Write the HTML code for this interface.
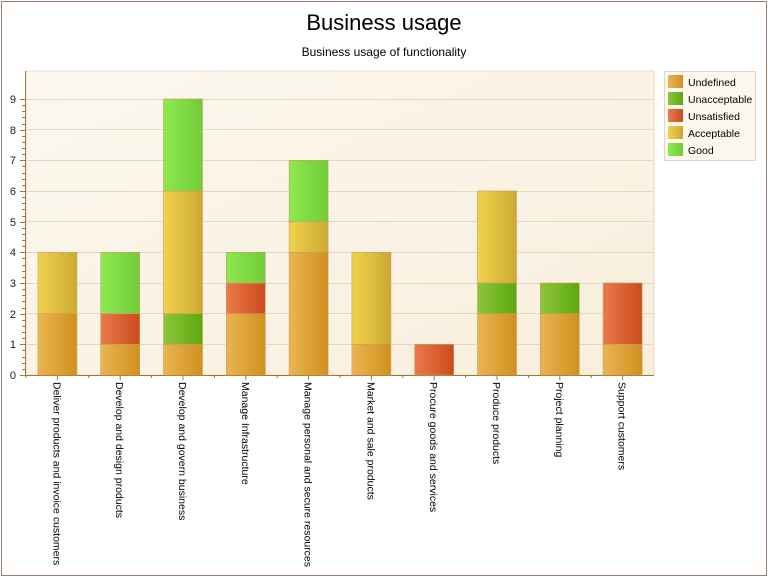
<!DOCTYPE html>
<html><head><meta charset="utf-8"><style>
body{margin:0;background:#fff;}
svg{display:block;font-family:"Liberation Sans","DejaVu Sans",sans-serif;}
</style></head><body>
<svg width="768" height="577" viewBox="0 0 768 577" xmlns="http://www.w3.org/2000/svg">
<defs>
<linearGradient id="bg" x1="0" y1="0" x2="1" y2="1"><stop offset="0" stop-color="#fcf8f0"/><stop offset="1" stop-color="#f8eedc"/></linearGradient>
<linearGradient id="u" x1="0" x2="1"><stop offset="0" stop-color="#eab552"/><stop offset="1" stop-color="#d0901e"/></linearGradient>
<linearGradient id="ua" x1="0" x2="1"><stop offset="0" stop-color="#8dc63a"/><stop offset="1" stop-color="#5da810"/></linearGradient>
<linearGradient id="us" x1="0" x2="1"><stop offset="0" stop-color="#ea7a4a"/><stop offset="1" stop-color="#cc4a1e"/></linearGradient>
<linearGradient id="ac" x1="0" x2="1"><stop offset="0" stop-color="#f2d24a"/><stop offset="1" stop-color="#cca834"/></linearGradient>
<linearGradient id="go" x1="0" x2="1"><stop offset="0" stop-color="#8ee84e"/><stop offset="1" stop-color="#72cc3a"/></linearGradient>
</defs>
<rect x="1.5" y="1.5" width="765" height="574" fill="#fff" stroke="#9a7a68"/>
<text x="384" y="30" font-size="22" text-anchor="middle" fill="#000">Business usage</text>
<text x="384" y="56" font-size="12" text-anchor="middle" fill="#000">Business usage of functionality</text>
<rect x="26" y="71" width="628" height="304" fill="url(#bg)" stroke="#e8dcc4"/>
<g stroke="#e6d8bc" stroke-width="1">
<line x1="26" x2="654" y1="344.5" y2="344.5"/><line x1="26" x2="654" y1="313.5" y2="313.5"/><line x1="26" x2="654" y1="283.5" y2="283.5"/><line x1="26" x2="654" y1="252.5" y2="252.5"/><line x1="26" x2="654" y1="221.5" y2="221.5"/><line x1="26" x2="654" y1="191.5" y2="191.5"/><line x1="26" x2="654" y1="160.5" y2="160.5"/><line x1="26" x2="654" y1="129.5" y2="129.5"/><line x1="26" x2="654" y1="99.5" y2="99.5"/>
</g>
<g font-size="11" fill="#222" text-anchor="end">
<text x="16" y="379">0</text><text x="16" y="348">1</text><text x="16" y="318">2</text><text x="16" y="287">3</text><text x="16" y="256">4</text><text x="16" y="226">5</text><text x="16" y="195">6</text><text x="16" y="164">7</text><text x="16" y="134">8</text><text x="16" y="103">9</text>
</g>
<line x1="25.5" y1="71" x2="25.5" y2="376" stroke="#a07830"/>
<line x1="25" y1="375.5" x2="654" y2="375.5" stroke="#a07830"/>
<g stroke="#a07830" id="ticks"></g>
<g stroke="#c8a060" stroke-width="0.6" id="bars"></g>
<g font-size="10.5" fill="#000" id="labels"></g>
<rect x="664.5" y="71.5" width="91" height="89" fill="#fcf8f0" stroke="#e4d6bc"/>
<g font-size="10.5" fill="#000">
<rect x="668" y="75" width="15" height="13" fill="url(#u)"/><text x="688" y="86">Undefined</text>
<rect x="668" y="92" width="15" height="13" fill="url(#ua)"/><text x="688" y="103">Unacceptable</text>
<rect x="668" y="109" width="15" height="13" fill="url(#us)"/><text x="688" y="120">Unsatisfied</text>
<rect x="668" y="126" width="15" height="13" fill="url(#ac)"/><text x="688" y="137">Acceptable</text>
<rect x="668" y="143" width="15" height="13" fill="url(#go)"/><text x="688" y="154">Good</text>
</g>
<script>
var ns="http://www.w3.org/2000/svg";
var data=[["Deliver products and invoice customers",[["u",2],["ac",2]]],
["Develop and design products",[["u",1],["us",1],["go",2]]],
["Develop and govern business",[["u",1],["ua",1],["ac",4],["go",3]]],
["Manage Infrastructure",[["u",2],["us",1],["go",1]]],
["Manage personal and secure resources",[["u",4],["ac",1],["go",2]]],
["Market and sale products",[["u",1],["ac",3]]],
["Procure goods and services",[["us",1]]],
["Produce products",[["u",2],["ua",1],["ac",3]]],
["Project planning",[["u",2],["ua",1]]],
["Support customers",[["u",1],["us",2]]]];
var bars=document.getElementById("bars"),labels=document.getElementById("labels"),ticks=document.getElementById("ticks");
var U=30.67,Y0=375;
for(var i=0;i<=45;i++){var y=Y0-i*U/5;var l=document.createElementNS(ns,"line");l.setAttribute("x1",i%5?22:20);l.setAttribute("x2",26);l.setAttribute("y1",Math.round(y)+.5);l.setAttribute("y2",Math.round(y)+.5);ticks.appendChild(l);}
data.forEach(function(d,i){var cx=26+62.8*(i+0.5);var s=0;
d[1].forEach(function(p){var r=document.createElementNS(ns,"rect");var y1=Y0-(s+p[1])*U,y2=Y0-s*U;r.setAttribute("x",cx-19.5);r.setAttribute("width",39);r.setAttribute("y",y1);r.setAttribute("height",y2-y1);r.setAttribute("fill","url(#"+p[0]+")");bars.appendChild(r);s+=p[1];});
var t=document.createElementNS(ns,"line");t.setAttribute("x1",cx);t.setAttribute("x2",cx);t.setAttribute("y1",375);t.setAttribute("y2",380);ticks.appendChild(t);
var t2=document.createElementNS(ns,"line");t2.setAttribute("x1",cx-31.4);t2.setAttribute("x2",cx-31.4);t2.setAttribute("y1",375);t2.setAttribute("y2",378);ticks.appendChild(t2);
var tx=document.createElementNS(ns,"text");tx.setAttribute("transform","translate("+(cx-4)+",382) rotate(90)");tx.textContent=d[0];labels.appendChild(tx);});
</script>
</svg>
</body></html>
